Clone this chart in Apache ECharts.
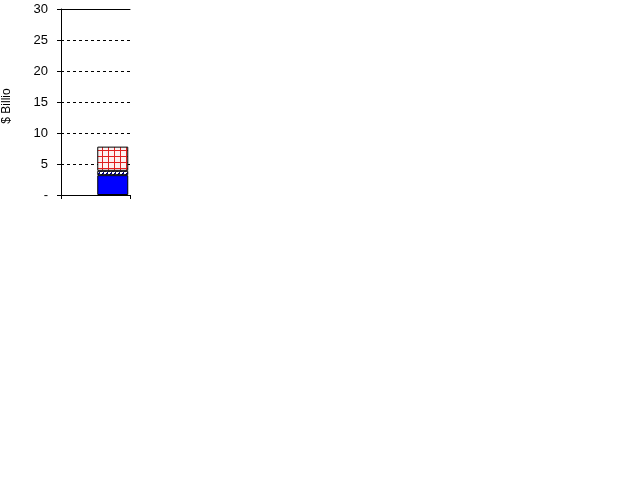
<!DOCTYPE html>
<html>
<head>
<meta charset="utf-8">
<script src="https://cdn.jsdelivr.net/npm/echarts@6/dist/echarts.min.js"></script>
<style>
  html, body { margin: 0; padding: 0; background: #fff; }
  #chart { width: 640px; height: 480px; }
</style>
</head>
<body>
<div id="chart"></div>
<script>
// chart data (only the first visible column of the original)
const categories = ['', ''];
const baseValues = [null, 3.2];
const hatchValues = [null, 0.7];
const gridValues = [null, 3.9];
const yTicks = [0, 5, 10, 15, 20, 25, 30];

function makeHatch() {
  const c = document.createElement('canvas');
  c.width = 4; c.height = 4;
  const ctx = c.getContext('2d');
  ctx.fillStyle = '#ffffff';
  ctx.fillRect(0, 0, 4, 4);
  ctx.fillStyle = '#000080';
  for (let i = 0; i < 4; i++) {
    ctx.fillRect(i, 3 - i, 2, 1);
  }
  return c;
}

function makeGrid() {
  const c = document.createElement('canvas');
  c.width = 6; c.height = 6;
  const ctx = c.getContext('2d');
  ctx.fillStyle = '#fdf0f0';
  ctx.fillRect(0, 0, 6, 6);
  ctx.fillStyle = '#e02020';
  ctx.fillRect(0, 0, 6, 1);
  ctx.fillRect(0, 0, 1, 6);
  return c;
}

const chart = echarts.init(document.getElementById('chart'));
chart.setOption({
  animation: false,
  backgroundColor: '#ffffff',
  textStyle: { fontFamily: 'Liberation Sans, Arial, sans-serif' },
  grid: { left: 61, top: 9, width: 69, height: 186, outerBoundsMode: 'none', containLabel: false },
  xAxis: [
    {
      type: 'category',
      data: categories,
      axisLine: { lineStyle: { color: '#000', width: 1 } },
      axisTick: { show: true, interval: 100, length: 4, lineStyle: { color: '#000' } },
      axisLabel: { show: false },
      splitLine: { show: false }
    },
    {
      type: 'category',
      data: categories,
      position: 'top',
      axisLine: { lineStyle: { color: '#000', width: 1 } },
      axisTick: { show: false },
      axisLabel: { show: false }
    }
  ],
  yAxis: {
    type: 'value',
    min: yTicks[0],
    max: yTicks[yTicks.length - 1],
    interval: 5,
    name: '$ Billio',
    nameLocation: 'middle',
    nameRotate: 90,
    nameGap: 48,
    nameTextStyle: { color: '#000', fontSize: 12, padding: [0, 8, 0, 0] },
    axisLine: { show: true, lineStyle: { color: '#000', width: 1 } },
    axisTick: { show: true, inside: false, length: 4, lineStyle: { color: '#000' } },
    axisLabel: {
      color: '#000',
      fontSize: 13,
      margin: 13,
      formatter: v => (v === 0 ? '-' : String(v))
    },
    splitLine: {
      show: true,
      lineStyle: { color: '#000', type: [3, 3], width: 1 }
    }
  },
  series: [
    {
      name: 'Base',
      type: 'bar',
      stack: 'total',
      data: baseValues,
      barWidth: 31,
      itemStyle: { color: '#0000ff', borderColor: '#000', borderWidth: 1 }
    },
    {
      name: 'Hatch',
      type: 'bar',
      stack: 'total',
      data: hatchValues,
      barWidth: 31,
      itemStyle: {
        color: { image: makeHatch(), repeat: 'repeat' },
        borderColor: '#000', borderWidth: 1
      }
    },
    {
      name: 'Grid',
      type: 'bar',
      stack: 'total',
      data: gridValues,
      barWidth: 31,
      itemStyle: {
        color: { image: makeGrid(), repeat: 'repeat' },
        borderColor: '#000', borderWidth: 1
      }
    }
  ]
});
</script>
</body>
</html>
